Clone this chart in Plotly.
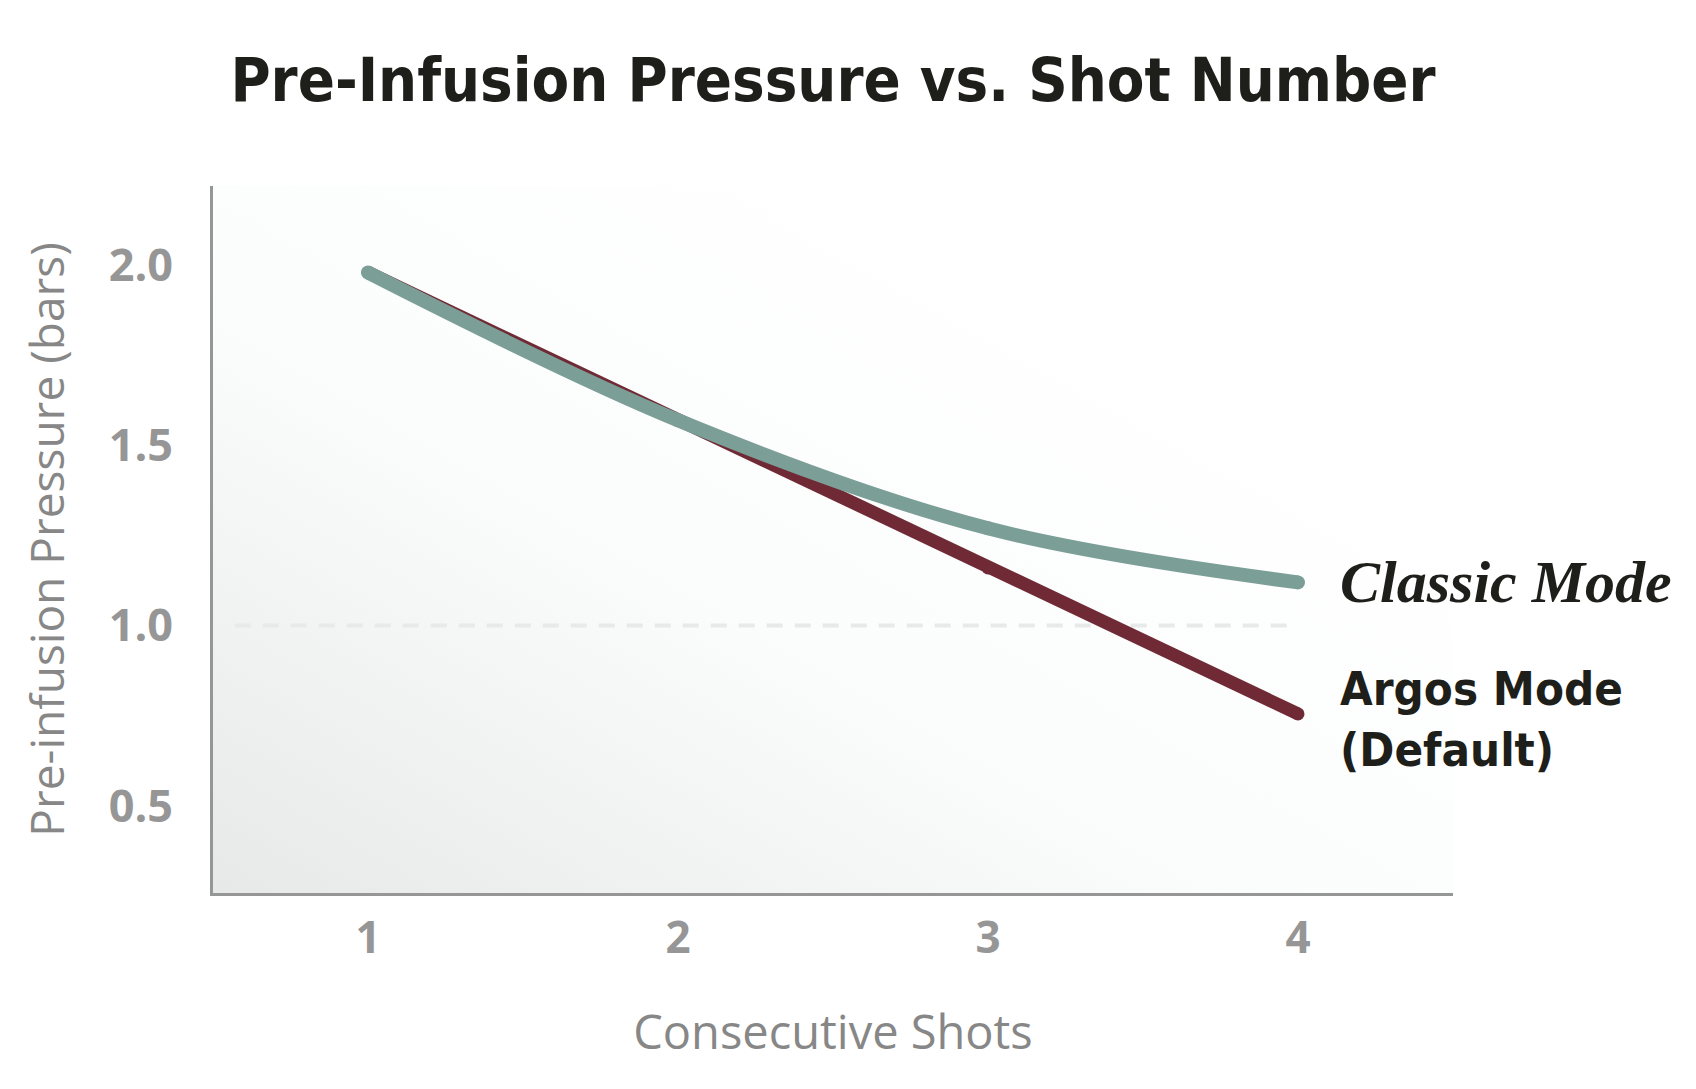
import base64
import plotly.graph_objects as go

shots = [1, 2, 3, 4]
classic_mode = [1.98, 1.57, 1.27, 1.12]
argos_mode = [1.98, 1.57, 1.16, 0.755]
y_ticks = [0.5, 1.0, 1.5, 2.0]
y_tick_labels = ["0.5", "1.0", "1.5", "2.0"]
x_tick_labels = ["1", "2", "3", "4"]

TEAL = "rgb(123,158,151)"
WINE = "rgb(112,42,53)"
GREY = "rgb(150,150,150)"
INK = "rgb(30,30,26)"
NARROW = "Noto Sans ExtraCondensed, Noto Sans Condensed, Liberation Sans Narrow, DejaVu Sans Condensed, sans-serif"
GEO = "Open Sans, Lato, sans-serif"

svg = ('<svg xmlns="http://www.w3.org/2000/svg" width="100" height="100" preserveAspectRatio="none">'
       '<defs><linearGradient id="g" x1="0" y1="1" x2="0.75" y2="0.25">'
       '<stop offset="0" stop-color="#e7e9e9"/><stop offset="0.55" stop-color="#fbfcfc"/>'
       '<stop offset="1" stop-color="#ffffff"/></linearGradient></defs>'
       '<rect width="100" height="100" fill="url(#g)"/></svg>')
bg_uri = "data:image/svg+xml;base64," + base64.b64encode(svg.encode()).decode()

fig = go.Figure()
fig.add_trace(go.Scatter(
    x=shots, y=argos_mode, mode="lines+markers", name="Argos Mode (Default)",
    line=dict(color=WINE, width=13), marker=dict(color=WINE, size=13),
    showlegend=False, hoverinfo="x+y"))
fig.add_trace(go.Scatter(
    x=shots, y=classic_mode, mode="lines+markers", name="Classic Mode",
    line=dict(color=TEAL, width=14, shape="spline", smoothing=1.0),
    marker=dict(color=TEAL, size=14),
    showlegend=False, hoverinfo="x+y"))

fig.add_shape(type="line", xref="x", yref="y", x0=0.57, x1=4.0, y0=1.0, y1=1.0,
              line=dict(color="rgb(232,233,233)", width=4, dash="16px,12px"), layer="below")

fig.add_annotation(x=4.13, y=1.12, xref="x", yref="y", xanchor="left", yanchor="middle",
                   text="<b><i>Classic Mode</i></b>", showarrow=False,
                   font=dict(family="Liberation Serif, DejaVu Serif, serif", size=60, color=INK))
fig.add_annotation(x=4.13, y=0.74, xref="x", yref="y", xanchor="left", yanchor="middle",
                   text="<b>Argos Mode<br>(Default)</b>", showarrow=False, align="left",
                   font=dict(family=NARROW, size=47, color=INK))

fig.update_layout(
    width=1696, height=1089,
    margin=dict(l=213, r=243, t=186, b=196),
    paper_bgcolor="white", plot_bgcolor="rgba(0,0,0,0)",
    title=dict(text="<b>Pre-Infusion Pressure vs. Shot Number</b>",
               x=0.5, xref="paper", xanchor="center",
               y=0.927, yref="container", yanchor="middle",
               font=dict(family=NARROW, size=61, color=INK)),
    images=[dict(source=bg_uri, xref="paper", yref="paper", x=0, y=1, sizex=1, sizey=1,
                 sizing="stretch", layer="below", xanchor="left", yanchor="top")],
)
fig.update_xaxes(
    range=[0.5, 4.5], tickvals=shots, ticktext=x_tick_labels,
    showgrid=False, zeroline=False, showline=True, linecolor=GREY, linewidth=3,
    ticks="", ticklabelstandoff=4,
    tickfont=dict(family=GEO, size=44, color=GREY, weight="bold"),
    title=dict(text="Consecutive Shots", standoff=52,
               font=dict(family=GEO, size=47, color="rgb(135,135,135)")))
fig.update_yaxes(
    range=[0.258, 2.22], tickvals=y_ticks, ticktext=y_tick_labels,
    showgrid=False, zeroline=False, showline=True, linecolor=GREY, linewidth=3,
    ticks="", ticklabelstandoff=28,
    tickfont=dict(family=GEO, size=45, color=GREY, weight="bold"),
    title=dict(text="Pre-infusion Pressure (bars)", standoff=30,
               font=dict(family=GEO, size=46, color="rgb(135,135,135)")))

fig.write_html("out.html")
